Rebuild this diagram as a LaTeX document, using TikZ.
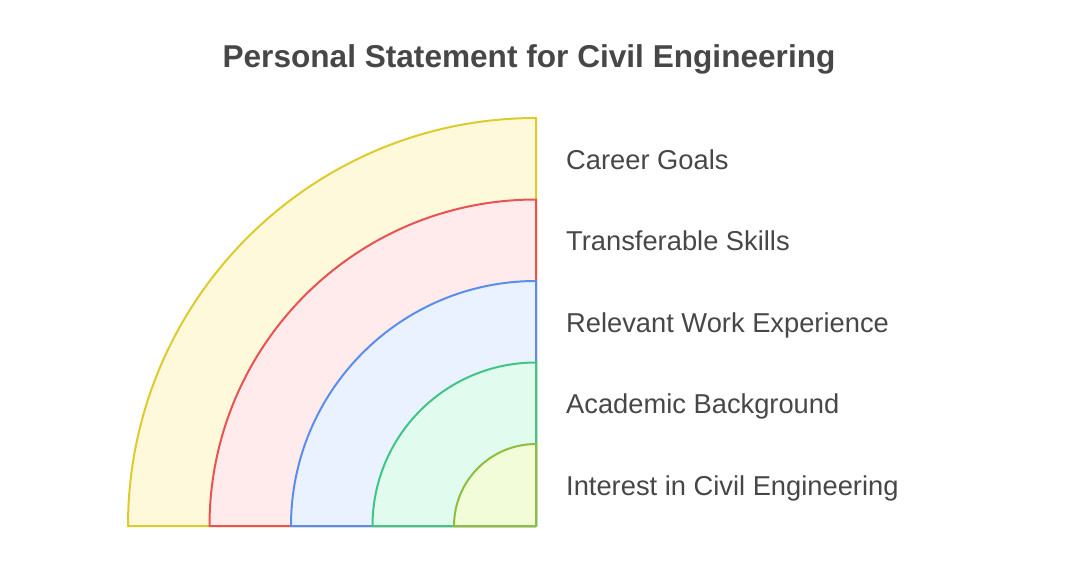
\documentclass[tikz,border=0pt]{standalone}
\usepackage{fontspec}
\setmainfont{Liberation Sans}
\definecolor{txt}{HTML}{474747}
\definecolor{ys}{HTML}{DDCB2E}\definecolor{yf}{HTML}{FFF9DB}
\definecolor{rs}{HTML}{E9534F}\definecolor{rf}{HTML}{FFEBEB}
\definecolor{bs}{HTML}{5A8EEB}\definecolor{bf}{HTML}{EBF2FF}
\definecolor{gs}{HTML}{3FC586}\definecolor{gf}{HTML}{E1FCEE}
\definecolor{ls}{HTML}{8DBE3E}\definecolor{lf}{HTML}{F2FCD9}
\tikzset{
  ring/.style={line width=2pt, line join=round},
  lab/.style={anchor=base west, text=txt, font=\fontsize{27.3}{32}\selectfont, inner sep=0pt},
}
\begin{document}
\begin{tikzpicture}[x=1pt,y=-1pt]
\useasboundingbox (0,0) rectangle (1080,565);
\coordinate (c) at (536,526);
\foreach \r/\s/\f in {408/ys/yf, 326.5/rs/rf, 245/bs/bf, 163.5/gs/gf, 82/ls/lf}{
  \draw[ring, draw=\s, fill=\f] (c) -- ++(-\r,0) arc[start angle=180, end angle=90, x radius=\r, y radius=-\r] -- cycle;
}
\node[anchor=base, text=txt, font=\bfseries\fontsize{31.6}{38}\selectfont, inner sep=0pt] (title) at (529,67.5) {Personal Statement for Civil Engineering};
\node[lab] (l1) at (566,169) {Career Goals};
\node[lab] (l2) at (566,250.5) {Transferable Skills};
\node[lab] (l3) at (566,332) {Relevant Work Experience};
\node[lab] (l4) at (566,413.5) {Academic Background};
\node[lab] (l5) at (566,495) {Interest in Civil Engineering};
\end{tikzpicture}
\end{document}
